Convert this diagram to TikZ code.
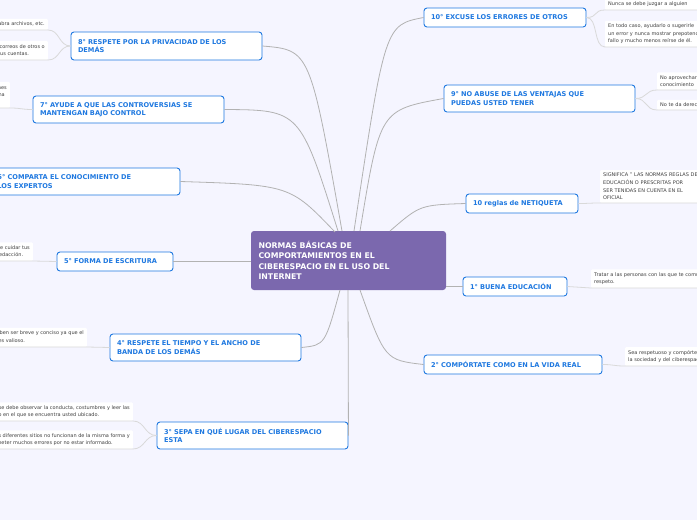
\documentclass[tikz,border=0pt]{standalone}
\usepackage{fontspec}
\setmainfont{DejaVu Sans}
\begin{document}
\begin{tikzpicture}[x=1pt,y=-1pt,
 br/.style={draw=cblue,line width=0.9pt,rounded corners=3pt,fill=white,text=cblue,font=\fontsize{6.6}{8.4}\selectfont\bfseries,align=left,inner sep=0pt},
 lf/.style={fill=white,text=black!75,font=\fontsize{5}{7.6}\selectfont,align=left,inner sep=3pt,rounded corners=1pt},
 cn/.style={draw=black!30,line width=0.8pt},
 ln/.style={draw=black!15,line width=0.8pt}]
\definecolor{cpurple}{HTML}{7B68AE}
\definecolor{cblue}{HTML}{1E78E0}
\useasboundingbox (0,0) rectangle (697,520);
\clip (0,0) rectangle (697,520);
\fill[blue!4] (0,0) rectangle (697,520);
% central
\node[fill=cpurple,rounded corners=3pt,minimum width=195,minimum height=59,text width=180,align=left,text=white,font=\fontsize{7.8}{10.5}\selectfont\bfseries,inner sep=0pt] (c) at (348.5,260.5) {NORMAS BÁSICAS DE\\COMPORTAMIENTOS EN EL\\CIBERESPACIO EN EL USO DEL\\INTERNET};
% left branches
\node[br,minimum width=191,minimum height=28,text width=177] (b8) at (166.5,46) {8° RESPETE POR LA PRIVACIDAD DE LOS\\DEMÁS};
\node[br,minimum width=191,minimum height=27,text width=177] (b7) at (128.5,109.5) {7° AYUDE A QUE LAS CONTROVERSIAS SE\\MANTENGAN BAJO CONTROL};
\node[br,minimum width=191,minimum height=27,text width=174] (b6) at (84.5,181.5) {6° COMPARTA EL CONOCIMIENTO DE\\LOS EXPERTOS};
\node[br,minimum width=116,minimum height=19,text width=102] (b5) at (115,261.5) {5° FORMA DE ESCRITURA};
\node[br,minimum width=191,minimum height=27,text width=177] (b4) at (205.5,347.5) {4° RESPETE EL TIEMPO Y EL ANCHO DE\\BANDA DE LOS DEMÁS};
\node[br,minimum width=191,minimum height=27,text width=177] (b3) at (252.5,435.5) {3° SEPA EN QUÉ LUGAR DEL CIBERESPACIO\\ESTA};
% right branches
\node[br,minimum width=162,minimum height=19,text width=148] (b10) at (505,17.5) {10° EXCUSE LOS ERRORES DE OTROS};
\node[br,minimum width=191,minimum height=27,text width=177] (b9) at (539.5,98.5) {9° NO ABUSE DE LAS VENTAJAS QUE\\PUEDAS USTED TENER};
\node[br,minimum width=112,minimum height=19,text width=98] (br) at (522,203.5) {10 reglas de NETIQUETA};
\node[br,minimum width=104,minimum height=19,text width=90] (b1) at (515,286.5) {1° BUENA EDUCACIÓN};
\node[br,minimum width=178,minimum height=19,text width=164] (b2) at (513,364.5) {2° COMPÓRTATE COMO EN LA VIDA REAL};
% central connectors
\draw[cn] (b8.east) .. controls (310,50) .. (342,231);
\draw[cn] (b7.east) .. controls (300,110) .. (338,231);
\draw[cn] (b6.east) .. controls (290,185) .. (335,232);
\draw[cn] (b5.east) -- (c.west|-b5.east);
\draw[cn] (b4.east) .. controls (325,345) .. (340,290);
\draw[cn] (b3.east) -- (348,290);
\draw[cn] (b10.west) .. controls (385,25) .. (354,231);
\draw[cn] (b9.west) .. controls (380,110) .. (360,231);
\draw[cn] (br.west) .. controls (420,205) .. (390,231);
\draw[cn] (b1.west) -- (c.east|-b1.west);
\draw[cn] (b2.west) .. controls (385,360) .. (360,290);
% leaves left
\node[lf,anchor=south east] (l81) at (48,30) {No descargue ni abra archivos, etc.};
\node[lf,anchor=south east,minimum height=19] (l82) at (48,60) {No leer los correos de otros o\\acceder a sus cuentas.\hspace{60pt}};
\node[lf,anchor=south east,minimum height=26] (l71) at (10,108) {Evitar las discusiones\\y mantener la calma\\en los debates.};
\node[lf,anchor=south east] (l51) at (33,261) {Es importante cuidar tus\\textos y su redacción.};
\node[lf,anchor=south east,minimum height=19] (l41) at (87,347) {Sus mensajes deben ser breve y conciso ya que el\\tiempo de otros es valioso.\hspace{40pt}};
\node[lf,anchor=south east] (l31) at (133,421) {Antes de participar se debe observar la  conducta, costumbres y leer las\\normas del sitio web en el que se encuentra usted ubicado.\hspace{58pt}};
\node[lf,anchor=south east] (l32) at (133,449) {Recuerde que los diferentes sitios no funcionan de la misma forma y\\usted puede cometer muchos errores por no estar informado.\hspace{20pt}};
\foreach \l/\b in {l81/b8,l82/b8,l71/b7,l51/b5,l41/b4,l31/b3,l32/b3}
  \draw[ln] (\b.west) .. controls +(-12,0) and +(12,0) .. (\l.south east) -- (\l.south west);
% leaves right
\node[lf,anchor=south west,text width=150] (l101) at (605,10) {Nunca se debe juzgar a alguien};
\node[lf,anchor=south west,text width=150] (l102) at (605,47) {En todo caso, ayudarlo o sugerirle\\un error y nunca mostrar prepotencia\\fallo y mucho menos reírse de él.};
\node[lf,anchor=south west,text width=150] (l91) at (657,90) {No aprovecharse del\\conocimiento};
\node[lf,anchor=south west,text width=150] (l92) at (657,110) {No te da derecho};
\node[lf,anchor=south west,text width=150] (lr1) at (600,203) {SIGNIFICA " LAS NORMAS REGLAS DE\\EDUCACIÓN O PRESCRITAS POR\\SER TENIDAS EN CUENTA EN EL\\OFICIAL};
\node[lf,anchor=south west,text width=150] (l11) at (591,288) {Tratar a las personas con las que te comunicas con\\respeto.};
\node[lf,anchor=south west,text width=150] (l21) at (625,366) {Sea respetuoso y compórtese\\la sociedad y del ciberespacio.};
\foreach \l/\b in {l101/b10,l102/b10,l91/b9,l92/b9,lr1/br,l11/b1,l21/b2}
  \draw[ln] (\b.east) .. controls +(12,0) and +(-12,0) .. (\l.south west) -- (\l.south east);
\end{tikzpicture}
\end{document}
